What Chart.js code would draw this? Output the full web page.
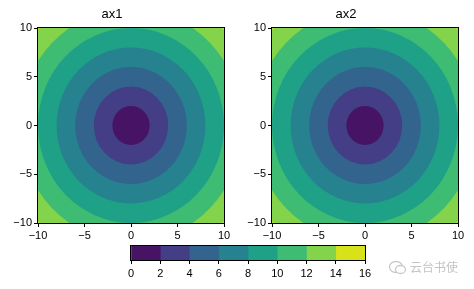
<!DOCTYPE html>
<html>
<head>
<meta charset="utf-8">
<script src="https://cdn.jsdelivr.net/npm/chart.js@4.4.1/dist/chart.umd.min.js"></script>
<style>
  body { margin: 0; background: #fff; }
  #wrap { position: relative; width: 474px; height: 289px; overflow: hidden; }
  canvas { position: absolute; }
  #mark { position: absolute; left: 388px; top: 258px; color: #c4c4c4; font: 12px "Noto Sans CJK SC", sans-serif; white-space: nowrap; }
  #mark svg { vertical-align: -3px; margin-right: 3px; }
</style>
</head>
<body>
<div id="wrap">
  <canvas id="ax1" width="234" height="245" style="left:0;top:0"></canvas>
  <canvas id="ax2" width="240" height="245" style="left:234px;top:0"></canvas>
  <canvas id="cbar" width="300" height="49" style="left:100px;top:240px"></canvas>
  <div id="mark"><svg width="19" height="15"><ellipse cx="8" cy="7" rx="6.5" ry="5.5" fill="none" stroke="#c8c8c8" stroke-width="1.3"/><ellipse cx="12.5" cy="9.5" rx="5" ry="4" fill="#fff" stroke="#c8c8c8" stroke-width="1.3"/></svg>云台书使</div>
</div>
<script>
// contour levels (distance from centre) and filled band colours
var levels = [0, 2, 4, 6, 8, 10, 12, 14, 16];
var bandColors = ['#471365', '#433e85', '#32648e', '#26828e', '#1fa188', '#3fbc73', '#84d44b', '#d8e219'];
var axisTicks = [-10, -5, 0, 5, 10];
var panelTitles = ['ax1', 'ax2'];
var cbTicks = [0, 2, 4, 6, 8, 10, 12, 14, 16];

var font = { family: "'Liberation Sans', Arial, sans-serif", size: 11 };
var minus = function(v) { return String(v).replace('-', '\u2212'); };

// fills every band as an ellipse centred on (0,0), largest first, using the chart scales
var contourPlugin = {
    id: 'contour',
    beforeDatasetsDraw: function(chart) {
        var ctx = chart.ctx, a = chart.chartArea, sx = chart.scales.x, sy = chart.scales.y;
        var cx = sx.getPixelForValue(0), cy = sy.getPixelForValue(0);
        ctx.save();
        ctx.beginPath();
        ctx.rect(a.left, a.top, a.right - a.left, a.bottom - a.top);
        ctx.clip();
        for (var i = bandColors.length - 1; i >= 0; i--) {
            var r = levels[i + 1];
            ctx.beginPath();
            ctx.ellipse(cx, cy, sx.getPixelForValue(r) - cx, cy - sy.getPixelForValue(r), 0, 0, Math.PI * 2);
            ctx.fillStyle = bandColors[i];
            ctx.fill();
        }
        ctx.restore();
    }
};

var framePlugin = {
    id: 'frame',
    afterDatasetsDraw: function(chart) {
        var ctx = chart.ctx, a = chart.chartArea;
        ctx.save();
        ctx.strokeStyle = '#000';
        ctx.lineWidth = 1;
        ctx.strokeRect(Math.round(a.left) - 0.5, Math.round(a.top) - 0.5, Math.round(a.right - a.left) + 1, Math.round(a.bottom - a.top) + 1);
        ctx.restore();
    }
};

function tickAxis(extra) {
    var o = {
        type: 'linear', min: -10, max: 10,
        afterBuildTicks: function(s) { s.ticks = axisTicks.map(function(v) { return { value: v }; }); },
        ticks: { color: '#000', font: font, padding: 2, callback: minus },
        grid: { drawOnChartArea: false, drawTicks: true, tickLength: 4, color: '#000' },
        border: { display: false }
    };
    for (var k in extra) o[k] = extra[k];
    return o;
}

function makePanel(id, title, padRight) {
    new Chart(document.getElementById(id), {
        type: 'scatter',
        data: { datasets: [{ data: [] }] },
        options: {
            responsive: false,
            animation: false,
            events: [],
            layout: { padding: { top: 0.4, right: padRight, bottom: 0, left: 0 } },
            plugins: {
                legend: { display: false },
                tooltip: { enabled: false },
                title: { display: true, text: title, color: '#000', font: { family: font.family, size: 13, weight: 'normal' }, padding: { top: 6, bottom: 6 } }
            },
            scales: {
                x: tickAxis({ afterFit: function(s) { s.height = 22; } }),
                y: tickAxis({ afterFit: function(s) { s.width = 38; } })
            }
        },
        plugins: [contourPlugin, framePlugin]
    });
}

makePanel('ax1', panelTitles[0], 10);
makePanel('ax2', panelTitles[1], 16);

// colour bar: one floating bar per band on a 0..16 axis
var cbData = bandColors.map(function(c, i) {
    return { data: [[levels[i], levels[i + 1]]], backgroundColor: c, borderWidth: 0, barPercentage: 1, categoryPercentage: 1, grouped: false };
});

new Chart(document.getElementById('cbar'), {
    type: 'bar',
    data: { labels: ['bands'], datasets: cbData },
    options: {
        indexAxis: 'y',
        responsive: false,
        animation: false,
        events: [],
        layout: { padding: { top: 6, right: 35, bottom: 0, left: 31 } },
        plugins: { legend: { display: false }, tooltip: { enabled: false } },
        scales: {
            x: {
                type: 'linear', min: 0, max: 16,
                afterBuildTicks: function(s) { s.ticks = cbTicks.map(function(v) { return { value: v }; }); },
                afterFit: function(s) { s.height = 29; },
                ticks: { color: '#000', font: font, padding: 3 },
                grid: { drawOnChartArea: false, drawTicks: true, tickLength: 4, color: '#000' },
                border: { display: false }
            },
            y: { display: false }
        }
    },
    plugins: [framePlugin]
});
</script>
</body>
</html>
